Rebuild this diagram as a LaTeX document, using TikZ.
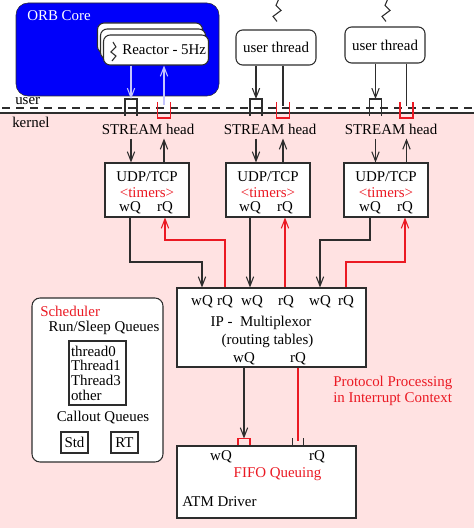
\documentclass[tikz,border=0pt]{standalone}
\usepackage{fontspec}
\setmainfont{Liberation Serif}
\usetikzlibrary{arrows.meta,calc,positioning}
\definecolor{orbblue}{RGB}{0,0,250}
\definecolor{kpink}{RGB}{255,226,226}
\definecolor{qred}{RGB}{235,25,35}
\definecolor{lav}{RGB}{196,196,255}
\definecolor{lineg}{RGB}{45,45,45}
\def\px{0.75pt}

\begin{document}
\begin{tikzpicture}[x=0.75pt,y=-0.75pt,
    every node/.style={font=\fontsize{11.2}{12}\selectfont, inner sep=0pt},
    box/.style={draw=lineg, line width=0.8pt, fill=white},
    rbox/.style={box, rounded corners=5pt},
    ln/.style={draw=lineg, line width=0.8pt},
    redln/.style={draw=qred, line width=0.8pt},
    arr/.style={ln, -{Straight Barb[length=7pt,width=5.5pt]}},
    redarr/.style={arr, draw=qred},
    lavarr/.style={arr, draw=lav},
    lbl/.style={text=qred},
    wqmark/.pic={\draw[ln] (-6,17) -- (-6,0) -- (6,0) -- (6,17);},
    rqmark/.pic={\draw[redln] (-6.5,0) -- (-6.5,16) -- (6.5,16) -- (6.5,0);}]
  \useasboundingbox (0,0) rectangle (474,531);
  % kernel side
  \fill[kpink] (0,113) rectangle (474,528);
  \draw[ln] (0,113) -- (474,113);
  \draw[ln, dash pattern=on 6pt off 4.5pt] (2,108) -- (474,108);
  \node[anchor=base west] (usr) at (15,105) {user};
  \node[anchor=west] (krn) at (12,122) {kernel};
  %
  \node[draw=lineg, fill=orbblue, rounded corners=9pt, minimum width=203*\px, minimum height=93*\px] (orb) at (117.5,49.5) {};
  \node[anchor=base west, text=white] (orbtxt) at (27,20.5) {ORB Core};
  \node[rbox, minimum width=105*\px, minimum height=30*\px] (rct3) at (150,38) {};
  \node[rbox, minimum width=105*\px, minimum height=30*\px] (rct2) at (153,44) {};
  \node[rbox, minimum width=105*\px, minimum height=30*\px] (rct) at (156,50) {};
  \node[anchor=east] (rcttxt) at ([xshift=-2pt]rct.east) {Reactor - 5Hz};
  \draw[ln] ($(rct.west)+(10,-8)$) -- ++(3,5) -- ++(-5,5) -- ++(5,4) -- ++(-4,5);
  %
  \node[rbox, minimum width=80*\px, minimum height=35*\px] (ut1) at (276,47.5) {user thread};
  \node[rbox, minimum width=80*\px, minimum height=36*\px] (ut2) at (385,45) {user thread};
  \draw[ln] ($(ut1.north)+(3,-31)$) -- ++(-3,7) -- ++(5,5) -- ++(-8,6) -- ++(4,5);
  \draw[ln] ($(ut2.north)+(3,-28)$) -- ++(-3,7) -- ++(5,5) -- ++(-8,6) -- ++(4,5);
  %
  \coordinate (q1w) at (131,99);
  \coordinate (q1r) at (164,102);
  \coordinate (q2w) at (256,99);
  \coordinate (q2r) at (283,102);
  \coordinate (q3w) at (375.5,99);
  \coordinate (q3r) at (406.5,102);
  \pic at (q1w) {wqmark};
  \pic at (q1r) {rqmark};
  \pic at (q2w) {wqmark};
  \pic at (q2r) {rqmark};
  \pic at (q3w) {wqmark};
  \pic at (q3r) {rqmark};
  \draw[lavarr] (rct.south -| q1w) -- (q1w);
  \draw[lavarr] ($(q1r)+(0,3)$) -- (rct.south -| q1r);
  \draw[arr] (ut1.south -| q2w) -- (q2w);
  \draw[ln] (ut1.south -| q2r) -- ($(q2r)+(0,4)$);
  \draw[arr] (ut2.south -| q3w) -- (q3w);
  \draw[ln] (ut2.south -| q3r) -- ($(q3r)+(0,4)$);
  %
  \node (sh1) at (148,129) {STREAM head};
  \node (sh2) at (270,129) {STREAM head};
  \node (sh3) at (391,129) {STREAM head};
  %
  \node[box, minimum width=84*\px, minimum height=54*\px] (u1) at (147,190) {};
  \node[box, minimum width=84*\px, minimum height=54*\px] (u2) at (268,190) {};
  \node[box, minimum width=84*\px, minimum height=54*\px] (u3) at (386,190) {};
  \node (u1t) at ($(u1.center)+(0,-13)$) {UDP/TCP};
  \node[lbl] (u1m) at ($(u1.center)+(0,2.5)$) {<timers>};
  \node (u1w) at ($(u1.center)+(-17,18)$) {wQ};
  \node (u1r) at ($(u1.center)+(18,18)$) {rQ};
  \node (u2t) at ($(u2.center)+(0,-13)$) {UDP/TCP};
  \node[lbl] (u2m) at ($(u2.center)+(0,2.5)$) {<timers>};
  \node (u2w) at ($(u2.center)+(-18,18)$) {wQ};
  \node (u2r) at ($(u2.center)+(17,18)$) {rQ};
  \node (u3t) at ($(u3.center)+(0,-13)$) {UDP/TCP};
  \node[lbl] (u3m) at ($(u3.center)+(0,2.5)$) {<timers>};
  \node (u3w) at ($(u3.center)+(-16,18)$) {wQ};
  \node (u3r) at ($(u3.center)+(19,18)$) {rQ};
  \draw[arr, shorten <=3pt] (sh1.south -| q1w) -- (u1.north -| q1w);
  \draw[arr, shorten >=3pt] (u1.north -| q1r) -- (sh1.south -| q1r);
  \draw[arr, shorten <=3pt] (sh2.south -| q2w) -- (u2.north -| q2w);
  \draw[arr, shorten >=3pt] (u2.north -| q2r) -- (sh2.south -| q2r);
  \draw[arr, shorten <=3pt] (sh3.south -| q3w) -- (u3.north -| q3w);
  \draw[arr, shorten >=3pt] (u3.north -| q3r) -- (sh3.south -| q3r);
  %
  \node[box, minimum width=189*\px, minimum height=79*\px] (ip) at (271.5,327.5) {};
  \node (ipw1) at (202,302) {wQ};
  \node (ipr1) at (225,302) {rQ};
  \node (ipw2) at (252,302) {wQ};
  \node (ipr2) at (286,302) {rQ};
  \node (ipw3) at (320,302) {wQ};
  \node (ipr3) at (346,302) {rQ};
  \node (ipt) at (261,323) {IP -\ \ Multiplexor};
  \node (iprt) at (267.5,341) {(routing tables)};
  \node (ipbw) at (244,359) {wQ};
  \node (ipbr) at (298,359) {rQ};
  \coordinate (j1) at (0,240);
  \coordinate (j2) at (0,262);
  \draw[arr] (u1w |- u1.south) -- (u1w |- j2) -| (ipw1 |- ip.north);
  \draw[redarr] (ipr1 |- ip.north) -- (ipr1 |- j1) -| (u1r |- u1.south);
  \draw[arr] (u2w |- u2.south) -- (u2w |- ip.north);
  \draw[redarr] (u2r |- ip.north) -- (u2r |- u2.south);
  \draw[arr] (u3w |- u3.south) -- (u3w |- j1) -| (ipw3 |- ip.north);
  \draw[redarr] (ipr3 |- ip.north) -- (ipr3 |- j2) -| (u3r |- u3.south);
  %
  \node[box, minimum width=179*\px, minimum height=72*\px] (atm) at (266.5,482) {};
  \node (atmw) at (221,457) {wQ};
  \node (atmr) at (317,457) {rQ};
  \node[lbl] (fifo) at (277.5,474.5) {FIFO Queuing};
  \node[anchor=west] (atmd) at (182,502) {ATM Driver};
  \draw[arr] (ipbw |- ip.south) -- ($(ipbw |- atm.north)+(0,-7)$);
  \draw[redln] ($(ipbw |- atm.north)+(-6,0)$) -- ++(0,-7) -- ++(12,0) -- ++(0,7);
  \draw[redln] (ipbr |- ip.south) -- ($(ipbr |- atm.north)+(0,-4)$);
  \draw[ln] ($(ipbr |- atm.north)+(-5.5,-7)$) -- ++(0,7) -- ++(11,0) -- ++(0,-7);
  \node[lbl, anchor=west, align=left] (ppic) at (333,391) {Protocol Processing\\in Interrupt Context};
  %
  \node[rbox, rounded corners=6pt, minimum width=131*\px, minimum height=164*\px] (sched) at (97.5,380) {};
  \node[lbl, anchor=west] (schedt) at (40,311) {Scheduler};
  \node (rsq) at (104,328) {Run/Sleep Queues};
  \node[box, align=left, text width=53*\px, inner xsep=2*\px, minimum height=64*\px,
    font=\fontsize{11.2}{11}\selectfont] (thq) at (97.5,373) {thread0\\Thread1\\Thread3\\other};
  \node (coq) at (103,418) {Callout Queues};
  \node[box, minimum width=27*\px, minimum height=21*\px] (std) at (74.5,442.5) {Std};
  \node[box, minimum width=27*\px, minimum height=21*\px] (rt) at (124.5,442.5) {RT};
\end{tikzpicture}
\end{document}
